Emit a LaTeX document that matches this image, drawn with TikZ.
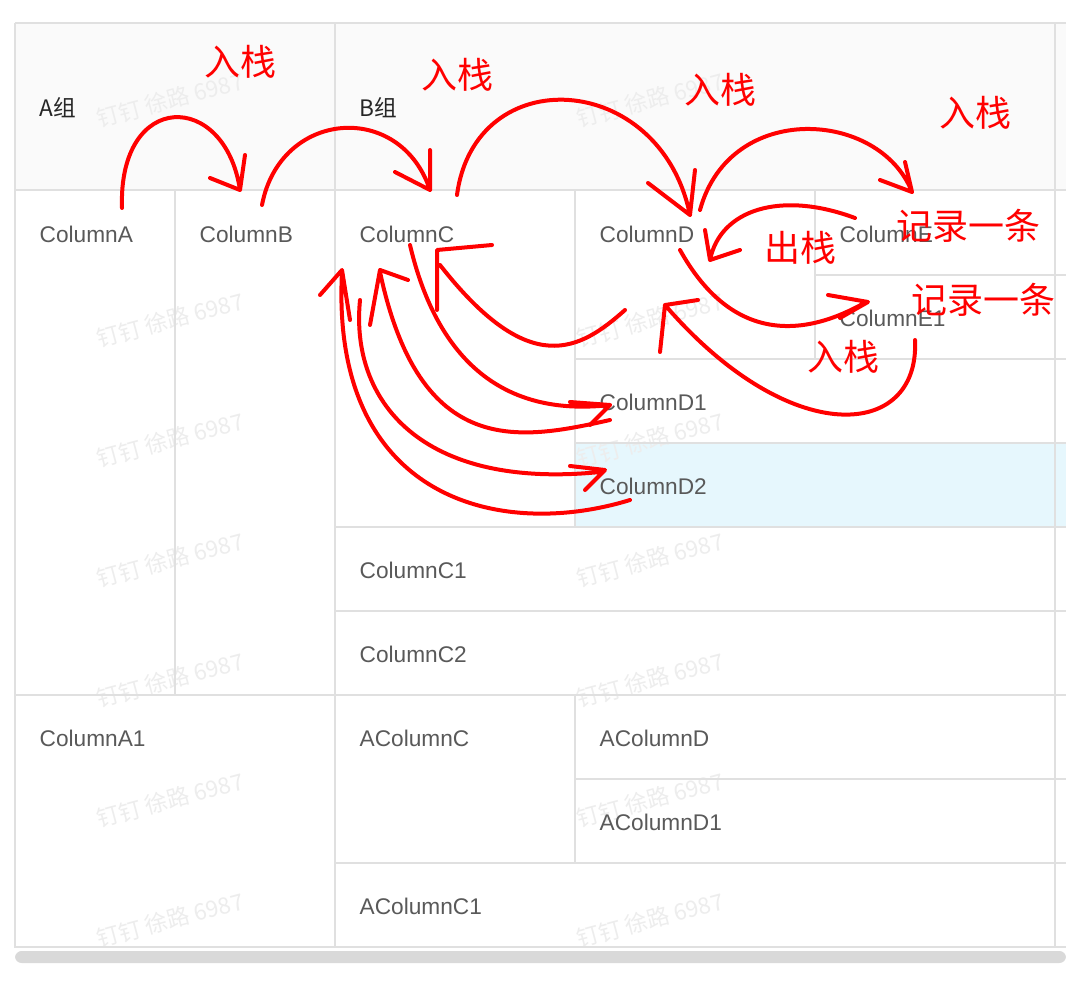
\documentclass[tikz,border=0pt]{standalone}
\usepackage{fontspec}
\setmainfont{Liberation Sans}
\newfontfamily\cjk{Noto Sans CJK SC}
\begin{document}
\begin{tikzpicture}[x=0.75pt,y=-0.75pt,
  grid/.style={draw=black!12,line width=0.8pt},
  cell/.style={anchor=west,text=black!65,font=\fontsize{17}{17}\selectfont},
  head/.style={anchor=west,text=black!85,font=\cjk\fontsize{17}{17}\selectfont},
  note/.style={text=red,font=\cjk\fontsize{27}{27}\selectfont},
  wm/.style={text=black!7,rotate=15,font=\cjk\fontsize{17}{17}\selectfont},
  pen/.style={draw=red,line width=3pt,line cap=round,line join=round}]
\useasboundingbox (0,0) rectangle (1066,984);
\fill[white] (0,0) rectangle (1066,984);
\fill[black!2] (15,23) rectangle (1066,190);
\fill[cyan!10] (575,443) rectangle (1066,527);
\foreach \x/\y in {170/100,650/100,170/320,650/320,170/440,650/440,170/560,650/560,170/680,650/680,170/800,650/800,170/920,650/920}
  \node[wm] (w\x\y) at (\x,\y) {钉钉 徐路 6987};
\draw[grid] (15,23) -- (1066,23) (15,23) -- (15,947) -- (1066,947);
\draw[grid] (15,190) -- (1066,190) (15,695) -- (1066,695);
\draw[grid] (175,190) -- (175,695) (335,23) -- (335,947) (575,190) -- (575,527) (575,695) -- (575,863);
\draw[grid] (815,190) -- (815,359) (1055,23) -- (1055,947);
\draw[grid] (815,275) -- (1066,275) (575,359) -- (1066,359) (575,443) -- (1066,443);
\draw[grid] (335,527) -- (1066,527) (335,611) -- (1066,611) (575,779) -- (1066,779) (335,863) -- (1066,863);
\fill[black!15,rounded corners=5pt] (15,951) rectangle (1066,963);
\node[head] (ha) at (35,108) {A组};
\node[head] (hb) at (355,108) {B组};
\node[cell] (ca) at (35,234) {ColumnA};
\node[cell] (cb) at (195,234) {ColumnB};
\node[cell] (cc) at (355,234) {ColumnC};
\node[cell] (cd) at (595,234) {ColumnD};
\node[cell] (ce) at (835,234) {ColumnE};
\node[cell] (ce1) at (835,318) {ColumnE1};
\node[cell] (cd1) at (595,402) {ColumnD1};
\node[cell] (cd2) at (595,486) {ColumnD2};
\node[cell] (cc1) at (355,570) {ColumnC1};
\node[cell] (cc2) at (355,654) {ColumnC2};
\node[cell] (ca1) at (35,738) {ColumnA1};
\node[cell] (acc) at (355,738) {AColumnC};
\node[cell] (acd) at (595,738) {AColumnD};
\node[cell] (acd1) at (595,822) {AColumnD1};
\node[cell] (acc1) at (355,906) {AColumnC1};
\node[note] (n1) at (240,62) {入栈};
\node[note] (n2) at (457,75) {入栈};
\node[note] (n3) at (720,90) {入栈};
\node[note] (n4) at (975,113) {入栈};
\node[note] (n5) at (843,357) {入栈};
\node[note] (n6) at (800,248) {出栈};
\node[note] (n7) at (968,226) {记录一条};
\node[note] (n8) at (983,300) {记录一条};
\draw[pen] (122,208) .. controls (118,90) and (225,90) .. (240,190) (210,178) -- (240,190) -- (245,155);
\draw[pen] (262,205) .. controls (280,110) and (400,100) .. (430,190) (395,172) -- (430,190) -- (430,150);
\draw[pen] (457,195) .. controls (475,60) and (660,70) .. (690,215) (648,183) -- (690,215) -- (695,170);
\draw[pen] (700,210) .. controls (730,100) and (880,110) .. (912,192) (880,180) -- (912,192) -- (905,162);
\draw[pen] (855,218) .. controls (780,190) and (720,210) .. (710,260) (705,230) -- (710,260) -- (740,250);
\draw[pen] (680,250) .. controls (730,340) and (800,340) .. (866,302) (828,295) -- (868,302) -- (840,318);
\draw[pen] (915,340) .. controls (920,440) and (790,450) .. (665,305) (660,352) -- (665,305) -- (698,300);
\draw[pen] (625,310) .. controls (580,350) and (530,380) .. (440,265) (437,310) -- (437,250) -- (492,245);
\draw[pen] (410,245) .. controls (430,330) and (480,420) .. (610,405) (570,402) -- (610,405) -- (590,425);
\draw[pen] (610,420) .. controls (520,440) and (420,460) .. (380,272) (370,325) -- (380,270) -- (408,280);
\draw[pen] (360,300) .. controls (350,400) and (420,490) .. (600,472) (570,466) -- (605,470) -- (585,490);
\draw[pen] (630,500) .. controls (500,540) and (330,500) .. (342,272) (320,295) -- (342,270) -- (350,320);
\end{tikzpicture}
\end{document}
